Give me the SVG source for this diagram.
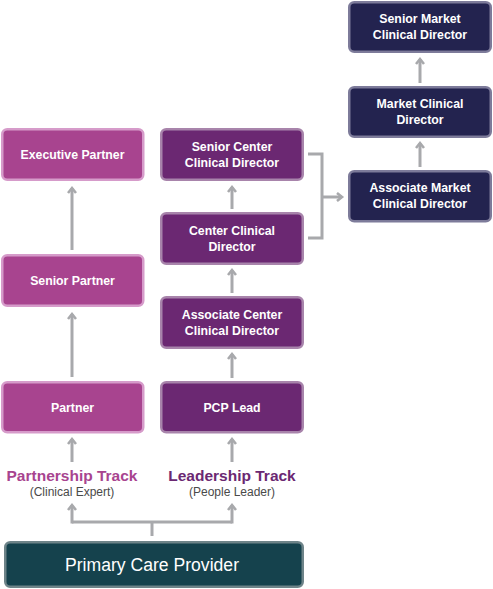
<svg xmlns="http://www.w3.org/2000/svg" width="493" height="589" viewBox="0 0 493 589">
<style>
.box{stroke-width:2.5}
.pink{fill:#a8448f;stroke:#d69bca}
.purple{fill:#6b2872;stroke:#a884ab}
.navy{fill:#23234f;stroke:#7d7b9a}
.teal{fill:#15424d;stroke:#6e8489}
.t{font-family:"Liberation Sans",Arial,sans-serif;font-weight:bold;font-size:12.3px;fill:#fff;text-anchor:middle}
.big{font-family:"Liberation Sans",Arial,sans-serif;font-size:17.6px;fill:#fff;text-anchor:middle}
.track{font-family:"Liberation Sans",Arial,sans-serif;font-weight:bold;font-size:15.5px;text-anchor:middle}
.sub{font-family:"Liberation Sans",Arial,sans-serif;font-size:12px;fill:#4a4a4a;text-anchor:middle}
.c{fill:none;stroke:#a8a9ac;stroke-width:3}
</style>
<defs>
<marker id="ah" viewBox="0 0 10 10" refX="7" refY="5" markerWidth="10" markerHeight="10" markerUnits="userSpaceOnUse" orient="auto">
<path d="M2,1 L7,5 L2,9" fill="none" stroke="#a8a9ac" stroke-width="2.6"/>
</marker>
</defs>
<g id="connectors">
<path class="c" d="M72,250 V188" marker-end="url(#ah)"/>
<path class="c" d="M72,377 V314" marker-end="url(#ah)"/>
<path class="c" d="M72,462 V439" marker-end="url(#ah)"/>
<path class="c" d="M232,209 V187" marker-end="url(#ah)"/>
<path class="c" d="M232,293 V270" marker-end="url(#ah)"/>
<path class="c" d="M232,378 V354" marker-end="url(#ah)"/>
<path class="c" d="M232,462 V439" marker-end="url(#ah)"/>
<path class="c" d="M420,167 V143" marker-end="url(#ah)"/>
<path class="c" d="M420,83 V59" marker-end="url(#ah)"/>
<path class="c" d="M308,154 H322 V238 H308"/>
<path class="c" d="M322,197 H342" marker-end="url(#ah)"/>
<path class="c" d="M152,536 V522"/>
<path class="c" d="M72,522 H232"/>
<path class="c" d="M72,523.5 V505" marker-end="url(#ah)"/>
<path class="c" d="M232,523.5 V505" marker-end="url(#ah)"/>
</g>
<g id="executive-partner">
<rect class="box pink" x="2.25" y="129.25" width="141" height="50.5" rx="5"/>
<text class="t" x="72.5" y="159">Executive Partner</text>
</g>
<g id="senior-partner">
<rect class="box pink" x="2.25" y="255.25" width="141" height="50.5" rx="5"/>
<text class="t" x="72.5" y="285">Senior Partner</text>
</g>
<g id="partner">
<rect class="box pink" x="2.25" y="382.25" width="141" height="50" rx="5"/>
<text class="t" x="72.5" y="412">Partner</text>
</g>
<g id="senior-center-clinical-director">
<rect class="box purple" x="161.25" y="129.25" width="141.5" height="50.5" rx="5"/>
<text class="t" x="232" y="151">Senior Center</text>
<text class="t" x="232" y="167">Clinical Director</text>
</g>
<g id="center-clinical-director">
<rect class="box purple" x="161.25" y="213.25" width="141.5" height="50.5" rx="5"/>
<text class="t" x="232" y="235">Center Clinical</text>
<text class="t" x="232" y="251">Director</text>
</g>
<g id="associate-center-clinical-director">
<rect class="box purple" x="161.25" y="297.25" width="141.5" height="50.5" rx="5"/>
<text class="t" x="232" y="319">Associate Center</text>
<text class="t" x="232" y="335">Clinical Director</text>
</g>
<g id="pcp-lead">
<rect class="box purple" x="161.25" y="382.25" width="141.5" height="50" rx="5"/>
<text class="t" x="232" y="412">PCP Lead</text>
</g>
<g id="senior-market-clinical-director">
<rect class="box navy" x="349.25" y="2.25" width="141.5" height="49.5" rx="5"/>
<text class="t" x="420" y="23">Senior Market</text>
<text class="t" x="420" y="39">Clinical Director</text>
</g>
<g id="market-clinical-director">
<rect class="box navy" x="349.25" y="87.25" width="141.5" height="49.5" rx="5"/>
<text class="t" x="420" y="108">Market Clinical</text>
<text class="t" x="420" y="124">Director</text>
</g>
<g id="associate-market-clinical-director">
<rect class="box navy" x="349.25" y="171.25" width="141.5" height="50" rx="5"/>
<text class="t" x="420" y="192">Associate Market</text>
<text class="t" x="420" y="208">Clinical Director</text>
</g>
<g id="partnership-track">
<text class="track" x="72" y="481" fill="#a8448f">Partnership Track</text>
<text class="sub" x="72" y="496">(Clinical Expert)</text>
</g>
<g id="leadership-track">
<text class="track" x="232" y="481" fill="#6b2872">Leadership Track</text>
<text class="sub" x="232" y="496">(People Leader)</text>
</g>
<g id="primary-care-provider">
<rect class="box teal" x="5.25" y="542.25" width="297.5" height="44.5" rx="5"/>
<text class="big" x="152" y="571">Primary Care Provider</text>
</g>
</svg>
